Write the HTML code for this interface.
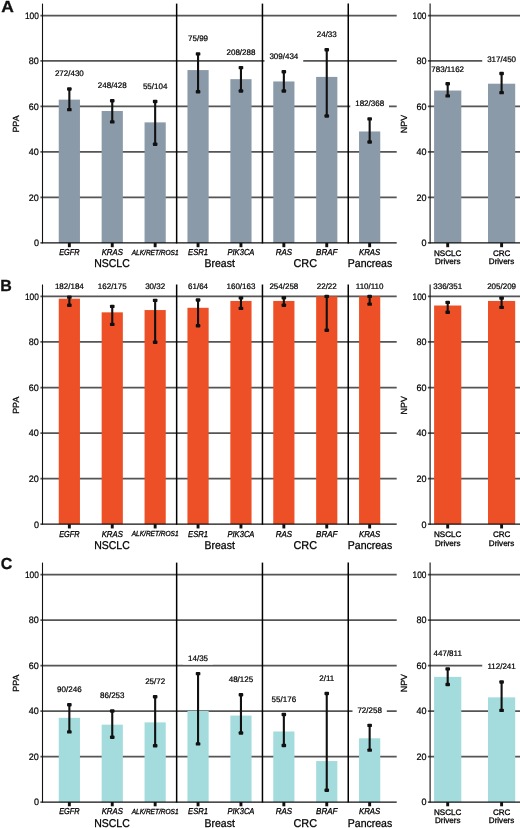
<!DOCTYPE html>
<html lang="en"><head><meta charset="utf-8"><title>Figure</title>
<style>html,body{margin:0;padding:0;background:#fff;}body{width:520px;height:828px;overflow:hidden;}svg{display:block;}</style>
</head><body>
<svg width="520" height="828" viewBox="0 0 520 828" font-family="'Liberation Sans', Arial, Helvetica, sans-serif" text-rendering="geometricPrecision">
<rect width="520" height="828" fill="#fff"/>
<g>
<line x1="40.4" x2="396.7" y1="197.42" y2="197.42" stroke="#555" stroke-width="1.75"/>
<line x1="427.90000000000003" x2="520" y1="197.42" y2="197.42" stroke="#555" stroke-width="1.75"/>
<line x1="40.4" x2="396.7" y1="151.94" y2="151.94" stroke="#555" stroke-width="1.75"/>
<line x1="427.90000000000003" x2="520" y1="151.94" y2="151.94" stroke="#555" stroke-width="1.75"/>
<line x1="40.4" x2="396.7" y1="106.46" y2="106.46" stroke="#555" stroke-width="1.75"/>
<line x1="427.90000000000003" x2="520" y1="106.46" y2="106.46" stroke="#555" stroke-width="1.75"/>
<line x1="40.4" x2="396.7" y1="60.98" y2="60.98" stroke="#555" stroke-width="1.75"/>
<line x1="427.90000000000003" x2="520" y1="60.98" y2="60.98" stroke="#555" stroke-width="1.75"/>
<line x1="40.4" x2="396.7" y1="15.50" y2="15.50" stroke="#555" stroke-width="1.75"/>
<line x1="427.90000000000003" x2="520" y1="15.50" y2="15.50" stroke="#555" stroke-width="1.75"/>
<rect x="49.97" y="67.40" width="38.75" height="12.5" fill="#fff"/>
<rect x="92.88" y="79.11" width="38.75" height="12.5" fill="#fff"/>
<rect x="138.00" y="79.85" width="34.30" height="12.5" fill="#fff"/>
<rect x="183.12" y="32.25" width="29.85" height="12.5" fill="#fff"/>
<rect x="221.57" y="46.03" width="38.75" height="12.5" fill="#fff"/>
<rect x="264.48" y="50.16" width="38.75" height="12.5" fill="#fff"/>
<rect x="311.83" y="28.16" width="29.85" height="12.5" fill="#fff"/>
<rect x="350.27" y="97.27" width="38.75" height="12.5" fill="#fff"/>
<rect x="426.10" y="63.48" width="43.20" height="12.5" fill="#fff"/>
<rect x="482.23" y="53.45" width="38.75" height="12.5" fill="#fff"/>
<rect x="58.75" y="99.64" width="21.2" height="143.26" fill="#8b9aa8"/>
<rect x="101.65" y="111.01" width="21.2" height="131.89" fill="#8b9aa8"/>
<rect x="144.55" y="122.38" width="21.2" height="120.52" fill="#8b9aa8"/>
<rect x="187.45" y="70.08" width="21.2" height="172.82" fill="#8b9aa8"/>
<rect x="230.35" y="79.17" width="21.2" height="163.73" fill="#8b9aa8"/>
<rect x="273.25" y="81.45" width="21.2" height="161.45" fill="#8b9aa8"/>
<rect x="316.15" y="76.90" width="21.2" height="166.00" fill="#8b9aa8"/>
<rect x="359.05" y="131.47" width="21.2" height="111.43" fill="#8b9aa8"/>
<rect x="434.10" y="90.54" width="27.2" height="152.36" fill="#8b9aa8"/>
<rect x="488.00" y="83.72" width="27.2" height="159.18" fill="#8b9aa8"/>
<line x1="42.5" x2="42.5" y1="3.60" y2="243.45" stroke="#111" stroke-width="1.1"/>
<line x1="430.1" x2="430.1" y1="3.60" y2="243.45" stroke="#111" stroke-width="1.1"/>
<line x1="40.4" x2="396.7" y1="242.90" y2="242.90" stroke="#111" stroke-width="1.25"/>
<line x1="427.90000000000003" x2="520" y1="242.90" y2="242.90" stroke="#111" stroke-width="1.25"/>
<line x1="176.65" x2="176.65" y1="3.60" y2="243.45" stroke="#000" stroke-width="1.5"/>
<line x1="262.45" x2="262.45" y1="3.60" y2="243.45" stroke="#000" stroke-width="1.5"/>
<line x1="348.25" x2="348.25" y1="3.60" y2="243.45" stroke="#000" stroke-width="1.5"/>
<rect x="67.90" y="242.90" width="2.9" height="4.3" fill="#111"/>
<rect x="110.80" y="242.90" width="2.9" height="4.3" fill="#111"/>
<rect x="153.70" y="242.90" width="2.9" height="4.3" fill="#111"/>
<rect x="196.60" y="242.90" width="2.9" height="4.3" fill="#111"/>
<rect x="239.50" y="242.90" width="2.9" height="4.3" fill="#111"/>
<rect x="282.40" y="242.90" width="2.9" height="4.3" fill="#111"/>
<rect x="325.30" y="242.90" width="2.9" height="4.3" fill="#111"/>
<rect x="368.20" y="242.90" width="2.9" height="4.3" fill="#111"/>
<rect x="446.25" y="242.90" width="2.9" height="4.3" fill="#111"/>
<rect x="500.15" y="242.90" width="2.9" height="4.3" fill="#111"/>
<text x="38.90" y="246.30" font-size="9.4" text-anchor="end" textLength="5.02" lengthAdjust="spacingAndGlyphs" fill="#000" stroke="#000" stroke-width="0.22">0</text>
<text x="426.50" y="246.30" font-size="9.4" text-anchor="end" textLength="5.02" lengthAdjust="spacingAndGlyphs" fill="#000" stroke="#000" stroke-width="0.22">0</text>
<text x="38.90" y="200.82" font-size="9.4" text-anchor="end" textLength="10.03" lengthAdjust="spacingAndGlyphs" fill="#000" stroke="#000" stroke-width="0.22">20</text>
<text x="426.50" y="200.82" font-size="9.4" text-anchor="end" textLength="10.03" lengthAdjust="spacingAndGlyphs" fill="#000" stroke="#000" stroke-width="0.22">20</text>
<text x="38.90" y="155.34" font-size="9.4" text-anchor="end" textLength="10.03" lengthAdjust="spacingAndGlyphs" fill="#000" stroke="#000" stroke-width="0.22">40</text>
<text x="426.50" y="155.34" font-size="9.4" text-anchor="end" textLength="10.03" lengthAdjust="spacingAndGlyphs" fill="#000" stroke="#000" stroke-width="0.22">40</text>
<text x="38.90" y="109.86" font-size="9.4" text-anchor="end" textLength="10.03" lengthAdjust="spacingAndGlyphs" fill="#000" stroke="#000" stroke-width="0.22">60</text>
<text x="426.50" y="109.86" font-size="9.4" text-anchor="end" textLength="10.03" lengthAdjust="spacingAndGlyphs" fill="#000" stroke="#000" stroke-width="0.22">60</text>
<text x="38.90" y="64.38" font-size="9.4" text-anchor="end" textLength="10.03" lengthAdjust="spacingAndGlyphs" fill="#000" stroke="#000" stroke-width="0.22">80</text>
<text x="426.50" y="64.38" font-size="9.4" text-anchor="end" textLength="10.03" lengthAdjust="spacingAndGlyphs" fill="#000" stroke="#000" stroke-width="0.22">80</text>
<text x="38.90" y="18.90" font-size="9.4" text-anchor="end" textLength="13.95" lengthAdjust="spacingAndGlyphs" fill="#000" stroke="#000" stroke-width="0.22">100</text>
<text x="426.50" y="18.90" font-size="9.4" text-anchor="end" textLength="13.95" lengthAdjust="spacingAndGlyphs" fill="#000" stroke="#000" stroke-width="0.22">100</text>
<text transform="translate(18.6,124.00) rotate(-90)" font-size="8.9" text-anchor="middle" fill="#000" stroke="#000" stroke-width="0.22">PPA</text>
<text transform="translate(406.5,124.00) rotate(-90)" font-size="8.9" text-anchor="middle" fill="#000" stroke="#000" stroke-width="0.22">NPV</text>
<line x1="69.35" x2="69.35" y1="89.00" y2="109.64" stroke="#111" stroke-width="2.1"/>
<rect x="67.05" y="87.30" width="4.6" height="3.4" rx="0.9" fill="#111"/>
<rect x="67.05" y="107.94" width="4.6" height="3.4" rx="0.9" fill="#111"/>
<text x="69.35" y="76.40" font-size="8" text-anchor="middle" fill="#000" stroke="#000" stroke-width="0.22">272/430</text>
<line x1="112.25" x2="112.25" y1="100.71" y2="121.89" stroke="#111" stroke-width="2.1"/>
<rect x="109.95" y="99.01" width="4.6" height="3.4" rx="0.9" fill="#111"/>
<rect x="109.95" y="120.19" width="4.6" height="3.4" rx="0.9" fill="#111"/>
<text x="112.25" y="88.11" font-size="8" text-anchor="middle" fill="#000" stroke="#000" stroke-width="0.22">248/428</text>
<line x1="155.15" x2="155.15" y1="101.45" y2="144.30" stroke="#111" stroke-width="2.1"/>
<rect x="152.85" y="99.75" width="4.6" height="3.4" rx="0.9" fill="#111"/>
<rect x="152.85" y="142.60" width="4.6" height="3.4" rx="0.9" fill="#111"/>
<text x="155.15" y="88.85" font-size="8" text-anchor="middle" fill="#000" stroke="#000" stroke-width="0.22">55/104</text>
<line x1="198.05" x2="198.05" y1="53.85" y2="91.78" stroke="#111" stroke-width="2.1"/>
<rect x="195.75" y="52.15" width="4.6" height="3.4" rx="0.9" fill="#111"/>
<rect x="195.75" y="90.08" width="4.6" height="3.4" rx="0.9" fill="#111"/>
<text x="198.05" y="41.25" font-size="8" text-anchor="middle" fill="#000" stroke="#000" stroke-width="0.22">75/99</text>
<line x1="240.95" x2="240.95" y1="67.63" y2="91.04" stroke="#111" stroke-width="2.1"/>
<rect x="238.65" y="65.93" width="4.6" height="3.4" rx="0.9" fill="#111"/>
<rect x="238.65" y="89.34" width="4.6" height="3.4" rx="0.9" fill="#111"/>
<text x="240.95" y="55.03" font-size="8" text-anchor="middle" fill="#000" stroke="#000" stroke-width="0.22">208/288</text>
<line x1="283.85" x2="283.85" y1="71.76" y2="91.07" stroke="#111" stroke-width="2.1"/>
<rect x="281.55" y="70.06" width="4.6" height="3.4" rx="0.9" fill="#111"/>
<rect x="281.55" y="89.37" width="4.6" height="3.4" rx="0.9" fill="#111"/>
<text x="283.85" y="59.16" font-size="8" text-anchor="middle" fill="#000" stroke="#000" stroke-width="0.22">309/434</text>
<line x1="326.75" x2="326.75" y1="49.76" y2="116.05" stroke="#111" stroke-width="2.1"/>
<rect x="324.45" y="48.06" width="4.6" height="3.4" rx="0.9" fill="#111"/>
<rect x="324.45" y="114.35" width="4.6" height="3.4" rx="0.9" fill="#111"/>
<text x="326.75" y="37.16" font-size="8" text-anchor="middle" fill="#000" stroke="#000" stroke-width="0.22">24/33</text>
<line x1="369.65" x2="369.65" y1="118.87" y2="141.98" stroke="#111" stroke-width="2.1"/>
<rect x="367.35" y="117.17" width="4.6" height="3.4" rx="0.9" fill="#111"/>
<rect x="367.35" y="140.28" width="4.6" height="3.4" rx="0.9" fill="#111"/>
<text x="369.65" y="106.27" font-size="8" text-anchor="middle" fill="#000" stroke="#000" stroke-width="0.22">182/368</text>
<line x1="447.70" x2="447.70" y1="83.68" y2="95.92" stroke="#111" stroke-width="2.1"/>
<rect x="445.40" y="81.98" width="4.6" height="3.4" rx="0.9" fill="#111"/>
<rect x="445.40" y="94.22" width="4.6" height="3.4" rx="0.9" fill="#111"/>
<text x="447.70" y="72.48" font-size="8" text-anchor="middle" fill="#000" stroke="#000" stroke-width="0.22">783/1162</text>
<line x1="501.60" x2="501.60" y1="73.55" y2="92.66" stroke="#111" stroke-width="2.1"/>
<rect x="499.30" y="71.85" width="4.6" height="3.4" rx="0.9" fill="#111"/>
<rect x="499.30" y="90.96" width="4.6" height="3.4" rx="0.9" fill="#111"/>
<text x="501.60" y="62.45" font-size="8" text-anchor="middle" fill="#000" stroke="#000" stroke-width="0.22">317/450</text>
<text x="69.35" y="255.25" font-size="8.6" font-style="italic" text-anchor="middle" fill="#000" stroke="#000" stroke-width="0.3" textLength="20.3" lengthAdjust="spacingAndGlyphs">EGFR</text>
<text x="112.25" y="255.25" font-size="8.6" font-style="italic" text-anchor="middle" fill="#000" stroke="#000" stroke-width="0.3" textLength="21.2" lengthAdjust="spacingAndGlyphs">KRAS</text>
<text x="155.15" y="255.00" font-size="7.3" font-style="italic" text-anchor="middle" fill="#000" stroke="#000" stroke-width="0.3" textLength="46.8" lengthAdjust="spacingAndGlyphs">ALK/RET/ROS1</text>
<text x="198.05" y="255.25" font-size="8.6" font-style="italic" text-anchor="middle" fill="#000" stroke="#000" stroke-width="0.3" textLength="20" lengthAdjust="spacingAndGlyphs">ESR1</text>
<text x="240.95" y="255.25" font-size="8.6" font-style="italic" text-anchor="middle" fill="#000" stroke="#000" stroke-width="0.3" textLength="27" lengthAdjust="spacingAndGlyphs">PIK3CA</text>
<text x="283.85" y="255.25" font-size="8.6" font-style="italic" text-anchor="middle" fill="#000" stroke="#000" stroke-width="0.3" textLength="16.3" lengthAdjust="spacingAndGlyphs">RAS</text>
<text x="326.75" y="255.25" font-size="8.6" font-style="italic" text-anchor="middle" fill="#000" stroke="#000" stroke-width="0.3" textLength="21.3" lengthAdjust="spacingAndGlyphs">BRAF</text>
<text x="369.65" y="255.25" font-size="8.6" font-style="italic" text-anchor="middle" fill="#000" stroke="#000" stroke-width="0.3" textLength="21.2" lengthAdjust="spacingAndGlyphs">KRAS</text>
<text x="112" y="267.40" font-size="11.3" text-anchor="middle" fill="#000" stroke="#000" stroke-width="0.28" textLength="35.6" lengthAdjust="spacingAndGlyphs">NSCLC</text>
<text x="219.7" y="267.40" font-size="11.3" text-anchor="middle" fill="#000" stroke="#000" stroke-width="0.28" textLength="30.2" lengthAdjust="spacingAndGlyphs">Breast</text>
<text x="305.3" y="267.40" font-size="11.3" text-anchor="middle" fill="#000" stroke="#000" stroke-width="0.28" textLength="23.6" lengthAdjust="spacingAndGlyphs">CRC</text>
<text x="370.0" y="267.40" font-size="11.3" text-anchor="middle" fill="#000" stroke="#000" stroke-width="0.28" textLength="44.4" lengthAdjust="spacingAndGlyphs">Pancreas</text>
<text x="447.70" y="255.50" font-size="8.05" text-anchor="middle" fill="#000" stroke="#000" stroke-width="0.3">NSCLC</text>
<text x="447.70" y="264.30" font-size="8.05" text-anchor="middle" fill="#000" stroke="#000" stroke-width="0.3">Drivers</text>
<text x="501.60" y="255.50" font-size="8.05" text-anchor="middle" fill="#000" stroke="#000" stroke-width="0.3">CRC</text>
<text x="501.60" y="264.30" font-size="8.05" text-anchor="middle" fill="#000" stroke="#000" stroke-width="0.3">Drivers</text>
<text x="1.3" y="11.90" font-size="16" font-weight="bold" fill="#111" stroke="#111" stroke-width="0.3" textLength="12.6" lengthAdjust="spacingAndGlyphs">A</text>
</g>
<g>
<line x1="40.4" x2="396.7" y1="478.60" y2="478.60" stroke="#555" stroke-width="1.75"/>
<line x1="427.90000000000003" x2="520" y1="478.60" y2="478.60" stroke="#555" stroke-width="1.75"/>
<line x1="40.4" x2="396.7" y1="433.05" y2="433.05" stroke="#555" stroke-width="1.75"/>
<line x1="427.90000000000003" x2="520" y1="433.05" y2="433.05" stroke="#555" stroke-width="1.75"/>
<line x1="40.4" x2="396.7" y1="387.50" y2="387.50" stroke="#555" stroke-width="1.75"/>
<line x1="427.90000000000003" x2="520" y1="387.50" y2="387.50" stroke="#555" stroke-width="1.75"/>
<line x1="40.4" x2="396.7" y1="341.95" y2="341.95" stroke="#555" stroke-width="1.75"/>
<line x1="427.90000000000003" x2="520" y1="341.95" y2="341.95" stroke="#555" stroke-width="1.75"/>
<line x1="40.4" x2="396.7" y1="296.40" y2="296.40" stroke="#555" stroke-width="1.75"/>
<line x1="427.90000000000003" x2="520" y1="296.40" y2="296.40" stroke="#555" stroke-width="1.75"/>
<rect x="49.97" y="280.35" width="38.75" height="12.5" fill="#fff"/>
<rect x="92.88" y="280.35" width="38.75" height="12.5" fill="#fff"/>
<rect x="140.22" y="280.35" width="29.85" height="12.5" fill="#fff"/>
<rect x="183.12" y="280.35" width="29.85" height="12.5" fill="#fff"/>
<rect x="221.57" y="280.35" width="38.75" height="12.5" fill="#fff"/>
<rect x="264.48" y="280.35" width="38.75" height="12.5" fill="#fff"/>
<rect x="311.83" y="280.35" width="29.85" height="12.5" fill="#fff"/>
<rect x="350.27" y="280.35" width="38.75" height="12.5" fill="#fff"/>
<rect x="428.32" y="280.35" width="38.75" height="12.5" fill="#fff"/>
<rect x="482.23" y="280.35" width="38.75" height="12.5" fill="#fff"/>
<rect x="58.75" y="298.68" width="21.2" height="225.47" fill="#ed5026"/>
<rect x="101.65" y="312.34" width="21.2" height="211.81" fill="#ed5026"/>
<rect x="144.55" y="310.06" width="21.2" height="214.08" fill="#ed5026"/>
<rect x="187.45" y="307.79" width="21.2" height="216.36" fill="#ed5026"/>
<rect x="230.35" y="300.95" width="21.2" height="223.19" fill="#ed5026"/>
<rect x="273.25" y="300.95" width="21.2" height="223.19" fill="#ed5026"/>
<rect x="316.15" y="296.40" width="21.2" height="227.75" fill="#ed5026"/>
<rect x="359.05" y="296.40" width="21.2" height="227.75" fill="#ed5026"/>
<rect x="434.10" y="305.51" width="27.2" height="218.64" fill="#ed5026"/>
<rect x="488.00" y="300.95" width="27.2" height="223.19" fill="#ed5026"/>
<line x1="42.5" x2="42.5" y1="284.50" y2="524.70" stroke="#111" stroke-width="1.1"/>
<line x1="430.1" x2="430.1" y1="284.50" y2="524.70" stroke="#111" stroke-width="1.1"/>
<line x1="40.4" x2="396.7" y1="524.15" y2="524.15" stroke="#111" stroke-width="1.25"/>
<line x1="427.90000000000003" x2="520" y1="524.15" y2="524.15" stroke="#111" stroke-width="1.25"/>
<line x1="176.65" x2="176.65" y1="284.50" y2="524.70" stroke="#000" stroke-width="1.5"/>
<line x1="262.45" x2="262.45" y1="284.50" y2="524.70" stroke="#000" stroke-width="1.5"/>
<line x1="348.25" x2="348.25" y1="284.50" y2="524.70" stroke="#000" stroke-width="1.5"/>
<rect x="67.90" y="524.15" width="2.9" height="4.3" fill="#111"/>
<rect x="110.80" y="524.15" width="2.9" height="4.3" fill="#111"/>
<rect x="153.70" y="524.15" width="2.9" height="4.3" fill="#111"/>
<rect x="196.60" y="524.15" width="2.9" height="4.3" fill="#111"/>
<rect x="239.50" y="524.15" width="2.9" height="4.3" fill="#111"/>
<rect x="282.40" y="524.15" width="2.9" height="4.3" fill="#111"/>
<rect x="325.30" y="524.15" width="2.9" height="4.3" fill="#111"/>
<rect x="368.20" y="524.15" width="2.9" height="4.3" fill="#111"/>
<rect x="446.25" y="524.15" width="2.9" height="4.3" fill="#111"/>
<rect x="500.15" y="524.15" width="2.9" height="4.3" fill="#111"/>
<text x="38.90" y="527.55" font-size="9.4" text-anchor="end" textLength="5.02" lengthAdjust="spacingAndGlyphs" fill="#000" stroke="#000" stroke-width="0.22">0</text>
<text x="426.50" y="527.55" font-size="9.4" text-anchor="end" textLength="5.02" lengthAdjust="spacingAndGlyphs" fill="#000" stroke="#000" stroke-width="0.22">0</text>
<text x="38.90" y="482.00" font-size="9.4" text-anchor="end" textLength="10.03" lengthAdjust="spacingAndGlyphs" fill="#000" stroke="#000" stroke-width="0.22">20</text>
<text x="426.50" y="482.00" font-size="9.4" text-anchor="end" textLength="10.03" lengthAdjust="spacingAndGlyphs" fill="#000" stroke="#000" stroke-width="0.22">20</text>
<text x="38.90" y="436.45" font-size="9.4" text-anchor="end" textLength="10.03" lengthAdjust="spacingAndGlyphs" fill="#000" stroke="#000" stroke-width="0.22">40</text>
<text x="426.50" y="436.45" font-size="9.4" text-anchor="end" textLength="10.03" lengthAdjust="spacingAndGlyphs" fill="#000" stroke="#000" stroke-width="0.22">40</text>
<text x="38.90" y="390.90" font-size="9.4" text-anchor="end" textLength="10.03" lengthAdjust="spacingAndGlyphs" fill="#000" stroke="#000" stroke-width="0.22">60</text>
<text x="426.50" y="390.90" font-size="9.4" text-anchor="end" textLength="10.03" lengthAdjust="spacingAndGlyphs" fill="#000" stroke="#000" stroke-width="0.22">60</text>
<text x="38.90" y="345.35" font-size="9.4" text-anchor="end" textLength="10.03" lengthAdjust="spacingAndGlyphs" fill="#000" stroke="#000" stroke-width="0.22">80</text>
<text x="426.50" y="345.35" font-size="9.4" text-anchor="end" textLength="10.03" lengthAdjust="spacingAndGlyphs" fill="#000" stroke="#000" stroke-width="0.22">80</text>
<text x="38.90" y="299.80" font-size="9.4" text-anchor="end" textLength="13.95" lengthAdjust="spacingAndGlyphs" fill="#000" stroke="#000" stroke-width="0.22">100</text>
<text x="426.50" y="299.80" font-size="9.4" text-anchor="end" textLength="13.95" lengthAdjust="spacingAndGlyphs" fill="#000" stroke="#000" stroke-width="0.22">100</text>
<text transform="translate(18.6,405.25) rotate(-90)" font-size="8.9" text-anchor="middle" fill="#000" stroke="#000" stroke-width="0.22">PPA</text>
<text transform="translate(406.5,405.25) rotate(-90)" font-size="8.9" text-anchor="middle" fill="#000" stroke="#000" stroke-width="0.22">NPV</text>
<line x1="69.35" x2="69.35" y1="297.08" y2="305.23" stroke="#111" stroke-width="2.1"/>
<rect x="67.05" y="295.38" width="4.6" height="3.4" rx="0.9" fill="#111"/>
<rect x="67.05" y="303.53" width="4.6" height="3.4" rx="0.9" fill="#111"/>
<text x="69.35" y="289.35" font-size="8" text-anchor="middle" fill="#000" stroke="#000" stroke-width="0.22">182/184</text>
<line x1="112.25" x2="112.25" y1="306.40" y2="324.40" stroke="#111" stroke-width="2.1"/>
<rect x="109.95" y="304.70" width="4.6" height="3.4" rx="0.9" fill="#111"/>
<rect x="109.95" y="322.70" width="4.6" height="3.4" rx="0.9" fill="#111"/>
<text x="112.25" y="289.35" font-size="8" text-anchor="middle" fill="#000" stroke="#000" stroke-width="0.22">162/175</text>
<line x1="155.15" x2="155.15" y1="300.34" y2="342.29" stroke="#111" stroke-width="2.1"/>
<rect x="152.85" y="298.64" width="4.6" height="3.4" rx="0.9" fill="#111"/>
<rect x="152.85" y="340.59" width="4.6" height="3.4" rx="0.9" fill="#111"/>
<text x="155.15" y="289.35" font-size="8" text-anchor="middle" fill="#000" stroke="#000" stroke-width="0.22">30/32</text>
<line x1="198.05" x2="198.05" y1="300.06" y2="325.78" stroke="#111" stroke-width="2.1"/>
<rect x="195.75" y="298.36" width="4.6" height="3.4" rx="0.9" fill="#111"/>
<rect x="195.75" y="324.08" width="4.6" height="3.4" rx="0.9" fill="#111"/>
<text x="198.05" y="289.35" font-size="8" text-anchor="middle" fill="#000" stroke="#000" stroke-width="0.22">61/64</text>
<line x1="240.95" x2="240.95" y1="297.83" y2="308.40" stroke="#111" stroke-width="2.1"/>
<rect x="238.65" y="296.13" width="4.6" height="3.4" rx="0.9" fill="#111"/>
<rect x="238.65" y="306.70" width="4.6" height="3.4" rx="0.9" fill="#111"/>
<text x="240.95" y="289.35" font-size="8" text-anchor="middle" fill="#000" stroke="#000" stroke-width="0.22">160/163</text>
<line x1="283.85" x2="283.85" y1="297.78" y2="305.32" stroke="#111" stroke-width="2.1"/>
<rect x="281.55" y="296.08" width="4.6" height="3.4" rx="0.9" fill="#111"/>
<rect x="281.55" y="303.62" width="4.6" height="3.4" rx="0.9" fill="#111"/>
<text x="283.85" y="289.35" font-size="8" text-anchor="middle" fill="#000" stroke="#000" stroke-width="0.22">254/258</text>
<line x1="326.75" x2="326.75" y1="296.40" y2="330.26" stroke="#111" stroke-width="2.1"/>
<rect x="324.45" y="294.70" width="4.6" height="3.4" rx="0.9" fill="#111"/>
<rect x="324.45" y="328.56" width="4.6" height="3.4" rx="0.9" fill="#111"/>
<text x="326.75" y="289.35" font-size="8" text-anchor="middle" fill="#000" stroke="#000" stroke-width="0.22">22/22</text>
<line x1="369.65" x2="369.65" y1="296.40" y2="304.09" stroke="#111" stroke-width="2.1"/>
<rect x="367.35" y="294.70" width="4.6" height="3.4" rx="0.9" fill="#111"/>
<rect x="367.35" y="302.39" width="4.6" height="3.4" rx="0.9" fill="#111"/>
<text x="369.65" y="289.35" font-size="8" text-anchor="middle" fill="#000" stroke="#000" stroke-width="0.22">110/110</text>
<line x1="447.70" x2="447.70" y1="302.34" y2="312.18" stroke="#111" stroke-width="2.1"/>
<rect x="445.40" y="300.64" width="4.6" height="3.4" rx="0.9" fill="#111"/>
<rect x="445.40" y="310.48" width="4.6" height="3.4" rx="0.9" fill="#111"/>
<text x="447.70" y="289.35" font-size="8" text-anchor="middle" fill="#000" stroke="#000" stroke-width="0.22">336/351</text>
<line x1="501.60" x2="501.60" y1="298.10" y2="307.37" stroke="#111" stroke-width="2.1"/>
<rect x="499.30" y="296.40" width="4.6" height="3.4" rx="0.9" fill="#111"/>
<rect x="499.30" y="305.67" width="4.6" height="3.4" rx="0.9" fill="#111"/>
<text x="501.60" y="289.35" font-size="8" text-anchor="middle" fill="#000" stroke="#000" stroke-width="0.22">205/209</text>
<text x="69.35" y="536.50" font-size="8.6" font-style="italic" text-anchor="middle" fill="#000" stroke="#000" stroke-width="0.3" textLength="20.3" lengthAdjust="spacingAndGlyphs">EGFR</text>
<text x="112.25" y="536.50" font-size="8.6" font-style="italic" text-anchor="middle" fill="#000" stroke="#000" stroke-width="0.3" textLength="21.2" lengthAdjust="spacingAndGlyphs">KRAS</text>
<text x="155.15" y="536.25" font-size="7.3" font-style="italic" text-anchor="middle" fill="#000" stroke="#000" stroke-width="0.3" textLength="46.8" lengthAdjust="spacingAndGlyphs">ALK/RET/ROS1</text>
<text x="198.05" y="536.50" font-size="8.6" font-style="italic" text-anchor="middle" fill="#000" stroke="#000" stroke-width="0.3" textLength="20" lengthAdjust="spacingAndGlyphs">ESR1</text>
<text x="240.95" y="536.50" font-size="8.6" font-style="italic" text-anchor="middle" fill="#000" stroke="#000" stroke-width="0.3" textLength="27" lengthAdjust="spacingAndGlyphs">PIK3CA</text>
<text x="283.85" y="536.50" font-size="8.6" font-style="italic" text-anchor="middle" fill="#000" stroke="#000" stroke-width="0.3" textLength="16.3" lengthAdjust="spacingAndGlyphs">RAS</text>
<text x="326.75" y="536.50" font-size="8.6" font-style="italic" text-anchor="middle" fill="#000" stroke="#000" stroke-width="0.3" textLength="21.3" lengthAdjust="spacingAndGlyphs">BRAF</text>
<text x="369.65" y="536.50" font-size="8.6" font-style="italic" text-anchor="middle" fill="#000" stroke="#000" stroke-width="0.3" textLength="21.2" lengthAdjust="spacingAndGlyphs">KRAS</text>
<text x="112" y="548.65" font-size="11.3" text-anchor="middle" fill="#000" stroke="#000" stroke-width="0.28" textLength="35.6" lengthAdjust="spacingAndGlyphs">NSCLC</text>
<text x="219.7" y="548.65" font-size="11.3" text-anchor="middle" fill="#000" stroke="#000" stroke-width="0.28" textLength="30.2" lengthAdjust="spacingAndGlyphs">Breast</text>
<text x="305.3" y="548.65" font-size="11.3" text-anchor="middle" fill="#000" stroke="#000" stroke-width="0.28" textLength="23.6" lengthAdjust="spacingAndGlyphs">CRC</text>
<text x="370.0" y="548.65" font-size="11.3" text-anchor="middle" fill="#000" stroke="#000" stroke-width="0.28" textLength="44.4" lengthAdjust="spacingAndGlyphs">Pancreas</text>
<text x="447.70" y="536.75" font-size="8.05" text-anchor="middle" fill="#000" stroke="#000" stroke-width="0.3">NSCLC</text>
<text x="447.70" y="545.55" font-size="8.05" text-anchor="middle" fill="#000" stroke="#000" stroke-width="0.3">Drivers</text>
<text x="501.60" y="536.75" font-size="8.05" text-anchor="middle" fill="#000" stroke="#000" stroke-width="0.3">CRC</text>
<text x="501.60" y="545.55" font-size="8.05" text-anchor="middle" fill="#000" stroke="#000" stroke-width="0.3">Drivers</text>
<text x="0.3" y="290.95" font-size="16" font-weight="bold" fill="#111" stroke="#111" stroke-width="0.3" textLength="11.55" lengthAdjust="spacingAndGlyphs">B</text>
</g>
<g>
<line x1="40.4" x2="396.7" y1="756.50" y2="756.50" stroke="#555" stroke-width="1.75"/>
<line x1="427.90000000000003" x2="520" y1="756.50" y2="756.50" stroke="#555" stroke-width="1.75"/>
<line x1="40.4" x2="396.7" y1="711.00" y2="711.00" stroke="#555" stroke-width="1.75"/>
<line x1="427.90000000000003" x2="520" y1="711.00" y2="711.00" stroke="#555" stroke-width="1.75"/>
<line x1="40.4" x2="396.7" y1="665.50" y2="665.50" stroke="#555" stroke-width="1.75"/>
<line x1="427.90000000000003" x2="520" y1="665.50" y2="665.50" stroke="#555" stroke-width="1.75"/>
<line x1="40.4" x2="396.7" y1="620.00" y2="620.00" stroke="#555" stroke-width="1.75"/>
<line x1="427.90000000000003" x2="520" y1="620.00" y2="620.00" stroke="#555" stroke-width="1.75"/>
<line x1="40.4" x2="396.7" y1="574.50" y2="574.50" stroke="#555" stroke-width="1.75"/>
<line x1="427.90000000000003" x2="520" y1="574.50" y2="574.50" stroke="#555" stroke-width="1.75"/>
<rect x="52.20" y="683.10" width="34.30" height="12.5" fill="#fff"/>
<rect x="95.10" y="689.33" width="34.30" height="12.5" fill="#fff"/>
<rect x="140.22" y="675.21" width="29.85" height="12.5" fill="#fff"/>
<rect x="183.12" y="652.03" width="29.85" height="12.5" fill="#fff"/>
<rect x="223.80" y="673.13" width="34.30" height="12.5" fill="#fff"/>
<rect x="266.70" y="692.96" width="34.30" height="12.5" fill="#fff"/>
<rect x="314.05" y="671.89" width="25.40" height="12.5" fill="#fff"/>
<rect x="352.50" y="703.79" width="34.30" height="12.5" fill="#fff"/>
<rect x="428.32" y="647.29" width="38.75" height="12.5" fill="#fff"/>
<rect x="482.23" y="660.33" width="38.75" height="12.5" fill="#fff"/>
<rect x="58.75" y="717.83" width="21.2" height="84.17" fill="#a4dcdd"/>
<rect x="101.65" y="724.65" width="21.2" height="77.35" fill="#a4dcdd"/>
<rect x="144.55" y="722.38" width="21.2" height="79.62" fill="#a4dcdd"/>
<rect x="187.45" y="711.00" width="21.2" height="91.00" fill="#a4dcdd"/>
<rect x="230.35" y="715.55" width="21.2" height="86.45" fill="#a4dcdd"/>
<rect x="273.25" y="731.48" width="21.2" height="70.52" fill="#a4dcdd"/>
<rect x="316.15" y="761.05" width="21.2" height="40.95" fill="#a4dcdd"/>
<rect x="359.05" y="738.30" width="21.2" height="63.70" fill="#a4dcdd"/>
<rect x="434.10" y="676.88" width="27.2" height="125.12" fill="#a4dcdd"/>
<rect x="488.00" y="697.35" width="27.2" height="104.65" fill="#a4dcdd"/>
<line x1="42.5" x2="42.5" y1="562.60" y2="802.55" stroke="#111" stroke-width="1.1"/>
<line x1="430.1" x2="430.1" y1="562.60" y2="802.55" stroke="#111" stroke-width="1.1"/>
<line x1="40.4" x2="396.7" y1="802.00" y2="802.00" stroke="#111" stroke-width="1.25"/>
<line x1="427.90000000000003" x2="520" y1="802.00" y2="802.00" stroke="#111" stroke-width="1.25"/>
<line x1="176.65" x2="176.65" y1="562.60" y2="802.55" stroke="#000" stroke-width="1.5"/>
<line x1="262.45" x2="262.45" y1="562.60" y2="802.55" stroke="#000" stroke-width="1.5"/>
<line x1="348.25" x2="348.25" y1="562.60" y2="802.55" stroke="#000" stroke-width="1.5"/>
<rect x="67.90" y="802.00" width="2.9" height="4.3" fill="#111"/>
<rect x="110.80" y="802.00" width="2.9" height="4.3" fill="#111"/>
<rect x="153.70" y="802.00" width="2.9" height="4.3" fill="#111"/>
<rect x="196.60" y="802.00" width="2.9" height="4.3" fill="#111"/>
<rect x="239.50" y="802.00" width="2.9" height="4.3" fill="#111"/>
<rect x="282.40" y="802.00" width="2.9" height="4.3" fill="#111"/>
<rect x="325.30" y="802.00" width="2.9" height="4.3" fill="#111"/>
<rect x="368.20" y="802.00" width="2.9" height="4.3" fill="#111"/>
<rect x="446.25" y="802.00" width="2.9" height="4.3" fill="#111"/>
<rect x="500.15" y="802.00" width="2.9" height="4.3" fill="#111"/>
<text x="38.90" y="805.40" font-size="9.4" text-anchor="end" textLength="5.02" lengthAdjust="spacingAndGlyphs" fill="#000" stroke="#000" stroke-width="0.22">0</text>
<text x="426.50" y="805.40" font-size="9.4" text-anchor="end" textLength="5.02" lengthAdjust="spacingAndGlyphs" fill="#000" stroke="#000" stroke-width="0.22">0</text>
<text x="38.90" y="759.90" font-size="9.4" text-anchor="end" textLength="10.03" lengthAdjust="spacingAndGlyphs" fill="#000" stroke="#000" stroke-width="0.22">20</text>
<text x="426.50" y="759.90" font-size="9.4" text-anchor="end" textLength="10.03" lengthAdjust="spacingAndGlyphs" fill="#000" stroke="#000" stroke-width="0.22">20</text>
<text x="38.90" y="714.40" font-size="9.4" text-anchor="end" textLength="10.03" lengthAdjust="spacingAndGlyphs" fill="#000" stroke="#000" stroke-width="0.22">40</text>
<text x="426.50" y="714.40" font-size="9.4" text-anchor="end" textLength="10.03" lengthAdjust="spacingAndGlyphs" fill="#000" stroke="#000" stroke-width="0.22">40</text>
<text x="38.90" y="668.90" font-size="9.4" text-anchor="end" textLength="10.03" lengthAdjust="spacingAndGlyphs" fill="#000" stroke="#000" stroke-width="0.22">60</text>
<text x="426.50" y="668.90" font-size="9.4" text-anchor="end" textLength="10.03" lengthAdjust="spacingAndGlyphs" fill="#000" stroke="#000" stroke-width="0.22">60</text>
<text x="38.90" y="623.40" font-size="9.4" text-anchor="end" textLength="10.03" lengthAdjust="spacingAndGlyphs" fill="#000" stroke="#000" stroke-width="0.22">80</text>
<text x="426.50" y="623.40" font-size="9.4" text-anchor="end" textLength="10.03" lengthAdjust="spacingAndGlyphs" fill="#000" stroke="#000" stroke-width="0.22">80</text>
<text x="38.90" y="577.90" font-size="9.4" text-anchor="end" textLength="13.95" lengthAdjust="spacingAndGlyphs" fill="#000" stroke="#000" stroke-width="0.22">100</text>
<text x="426.50" y="577.90" font-size="9.4" text-anchor="end" textLength="13.95" lengthAdjust="spacingAndGlyphs" fill="#000" stroke="#000" stroke-width="0.22">100</text>
<text transform="translate(18.6,683.10) rotate(-90)" font-size="8.9" text-anchor="middle" fill="#000" stroke="#000" stroke-width="0.22">PPA</text>
<text transform="translate(406.5,683.10) rotate(-90)" font-size="8.9" text-anchor="middle" fill="#000" stroke="#000" stroke-width="0.22">NPV</text>
<line x1="69.35" x2="69.35" y1="704.70" y2="731.90" stroke="#111" stroke-width="2.1"/>
<rect x="67.05" y="703.00" width="4.6" height="3.4" rx="0.9" fill="#111"/>
<rect x="67.05" y="730.20" width="4.6" height="3.4" rx="0.9" fill="#111"/>
<text x="69.35" y="692.10" font-size="8" text-anchor="middle" fill="#000" stroke="#000" stroke-width="0.22">90/246</text>
<line x1="112.25" x2="112.25" y1="710.93" y2="737.31" stroke="#111" stroke-width="2.1"/>
<rect x="109.95" y="709.23" width="4.6" height="3.4" rx="0.9" fill="#111"/>
<rect x="109.95" y="735.61" width="4.6" height="3.4" rx="0.9" fill="#111"/>
<text x="112.25" y="698.33" font-size="8" text-anchor="middle" fill="#000" stroke="#000" stroke-width="0.22">86/253</text>
<line x1="155.15" x2="155.15" y1="696.81" y2="745.69" stroke="#111" stroke-width="2.1"/>
<rect x="152.85" y="695.11" width="4.6" height="3.4" rx="0.9" fill="#111"/>
<rect x="152.85" y="743.99" width="4.6" height="3.4" rx="0.9" fill="#111"/>
<text x="155.15" y="684.21" font-size="8" text-anchor="middle" fill="#000" stroke="#000" stroke-width="0.22">25/72</text>
<line x1="198.05" x2="198.05" y1="673.63" y2="743.87" stroke="#111" stroke-width="2.1"/>
<rect x="195.75" y="671.93" width="4.6" height="3.4" rx="0.9" fill="#111"/>
<rect x="195.75" y="742.17" width="4.6" height="3.4" rx="0.9" fill="#111"/>
<text x="198.05" y="661.03" font-size="8" text-anchor="middle" fill="#000" stroke="#000" stroke-width="0.22">14/35</text>
<line x1="240.95" x2="240.95" y1="694.73" y2="732.98" stroke="#111" stroke-width="2.1"/>
<rect x="238.65" y="693.03" width="4.6" height="3.4" rx="0.9" fill="#111"/>
<rect x="238.65" y="731.28" width="4.6" height="3.4" rx="0.9" fill="#111"/>
<text x="240.95" y="682.13" font-size="8" text-anchor="middle" fill="#000" stroke="#000" stroke-width="0.22">48/125</text>
<line x1="283.85" x2="283.85" y1="714.56" y2="745.43" stroke="#111" stroke-width="2.1"/>
<rect x="281.55" y="712.86" width="4.6" height="3.4" rx="0.9" fill="#111"/>
<rect x="281.55" y="743.73" width="4.6" height="3.4" rx="0.9" fill="#111"/>
<text x="283.85" y="701.96" font-size="8" text-anchor="middle" fill="#000" stroke="#000" stroke-width="0.22">55/176</text>
<line x1="326.75" x2="326.75" y1="693.49" y2="790.31" stroke="#111" stroke-width="2.1"/>
<rect x="324.45" y="691.79" width="4.6" height="3.4" rx="0.9" fill="#111"/>
<rect x="324.45" y="788.61" width="4.6" height="3.4" rx="0.9" fill="#111"/>
<text x="326.75" y="680.89" font-size="8" text-anchor="middle" fill="#000" stroke="#000" stroke-width="0.22">2/11</text>
<line x1="369.65" x2="369.65" y1="725.39" y2="750.16" stroke="#111" stroke-width="2.1"/>
<rect x="367.35" y="723.69" width="4.6" height="3.4" rx="0.9" fill="#111"/>
<rect x="367.35" y="748.46" width="4.6" height="3.4" rx="0.9" fill="#111"/>
<text x="369.65" y="712.79" font-size="8" text-anchor="middle" fill="#000" stroke="#000" stroke-width="0.22">72/258</text>
<line x1="447.70" x2="447.70" y1="668.89" y2="684.43" stroke="#111" stroke-width="2.1"/>
<rect x="445.40" y="667.19" width="4.6" height="3.4" rx="0.9" fill="#111"/>
<rect x="445.40" y="682.73" width="4.6" height="3.4" rx="0.9" fill="#111"/>
<text x="447.70" y="656.29" font-size="8" text-anchor="middle" fill="#000" stroke="#000" stroke-width="0.22">447/811</text>
<line x1="501.60" x2="501.60" y1="681.93" y2="710.36" stroke="#111" stroke-width="2.1"/>
<rect x="499.30" y="680.23" width="4.6" height="3.4" rx="0.9" fill="#111"/>
<rect x="499.30" y="708.66" width="4.6" height="3.4" rx="0.9" fill="#111"/>
<text x="501.60" y="669.33" font-size="8" text-anchor="middle" fill="#000" stroke="#000" stroke-width="0.22">112/241</text>
<text x="69.35" y="814.35" font-size="8.6" font-style="italic" text-anchor="middle" fill="#000" stroke="#000" stroke-width="0.3" textLength="20.3" lengthAdjust="spacingAndGlyphs">EGFR</text>
<text x="112.25" y="814.35" font-size="8.6" font-style="italic" text-anchor="middle" fill="#000" stroke="#000" stroke-width="0.3" textLength="21.2" lengthAdjust="spacingAndGlyphs">KRAS</text>
<text x="155.15" y="814.10" font-size="7.3" font-style="italic" text-anchor="middle" fill="#000" stroke="#000" stroke-width="0.3" textLength="46.8" lengthAdjust="spacingAndGlyphs">ALK/RET/ROS1</text>
<text x="198.05" y="814.35" font-size="8.6" font-style="italic" text-anchor="middle" fill="#000" stroke="#000" stroke-width="0.3" textLength="20" lengthAdjust="spacingAndGlyphs">ESR1</text>
<text x="240.95" y="814.35" font-size="8.6" font-style="italic" text-anchor="middle" fill="#000" stroke="#000" stroke-width="0.3" textLength="27" lengthAdjust="spacingAndGlyphs">PIK3CA</text>
<text x="283.85" y="814.35" font-size="8.6" font-style="italic" text-anchor="middle" fill="#000" stroke="#000" stroke-width="0.3" textLength="16.3" lengthAdjust="spacingAndGlyphs">RAS</text>
<text x="326.75" y="814.35" font-size="8.6" font-style="italic" text-anchor="middle" fill="#000" stroke="#000" stroke-width="0.3" textLength="21.3" lengthAdjust="spacingAndGlyphs">BRAF</text>
<text x="369.65" y="814.35" font-size="8.6" font-style="italic" text-anchor="middle" fill="#000" stroke="#000" stroke-width="0.3" textLength="21.2" lengthAdjust="spacingAndGlyphs">KRAS</text>
<text x="112" y="826.50" font-size="11.3" text-anchor="middle" fill="#000" stroke="#000" stroke-width="0.28" textLength="35.6" lengthAdjust="spacingAndGlyphs">NSCLC</text>
<text x="219.7" y="826.50" font-size="11.3" text-anchor="middle" fill="#000" stroke="#000" stroke-width="0.28" textLength="30.2" lengthAdjust="spacingAndGlyphs">Breast</text>
<text x="305.3" y="826.50" font-size="11.3" text-anchor="middle" fill="#000" stroke="#000" stroke-width="0.28" textLength="23.6" lengthAdjust="spacingAndGlyphs">CRC</text>
<text x="370.0" y="826.50" font-size="11.3" text-anchor="middle" fill="#000" stroke="#000" stroke-width="0.28" textLength="44.4" lengthAdjust="spacingAndGlyphs">Pancreas</text>
<text x="447.70" y="814.60" font-size="8.05" text-anchor="middle" fill="#000" stroke="#000" stroke-width="0.3">NSCLC</text>
<text x="447.70" y="823.40" font-size="8.05" text-anchor="middle" fill="#000" stroke="#000" stroke-width="0.3">Drivers</text>
<text x="501.60" y="814.60" font-size="8.05" text-anchor="middle" fill="#000" stroke="#000" stroke-width="0.3">CRC</text>
<text x="501.60" y="823.40" font-size="8.05" text-anchor="middle" fill="#000" stroke="#000" stroke-width="0.3">Drivers</text>
<text x="0.8" y="569.10" font-size="16" font-weight="bold" fill="#111" stroke="#111" stroke-width="0.3" textLength="11.55" lengthAdjust="spacingAndGlyphs">C</text>
</g>
</svg>
</body></html>
